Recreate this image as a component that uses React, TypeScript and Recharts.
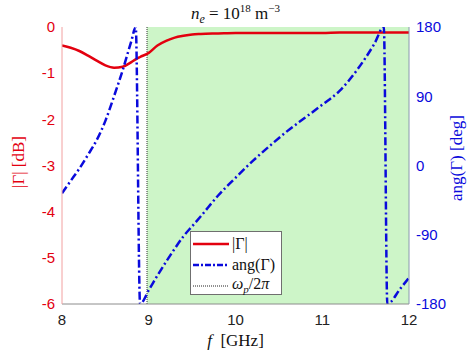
import { ComposedChart, Line, XAxis, YAxis, ReferenceArea, ReferenceLine } from "recharts";

// frequency grid [GHz]
const freqGHz = [
  8.0, 8.1, 8.2, 8.3, 8.4, 8.5, 8.6, 8.7, 8.8, 8.85, 8.9, 9.0, 9.1, 9.2, 9.3, 9.4, 9.5, 9.6, 9.8,
  10.0, 10.2, 10.4, 10.6, 10.8, 11.0, 11.2, 11.4, 11.6, 11.71, 11.75, 11.9, 12.0,
];
// |Gamma| in dB
const gammaDb = [
  -0.4, -0.45, -0.52, -0.62, -0.73, -0.83, -0.88, -0.86, -0.76, -0.7, -0.65, -0.56, -0.4, -0.3, -0.23,
  -0.19, -0.16, -0.15, -0.14, -0.13, -0.13, -0.13, -0.13, -0.13, -0.13, -0.12, -0.12, -0.12, -0.12,
  -0.12, -0.12, -0.12,
];
// ang(Gamma) in degrees
const angleDeg = [
  -36, -20, -4, 14, 33, 58, 90, 124, 162, 180, -180, -162, -143, -125, -108, -92, -79, -66, -39,
  -16, 6, 26, 45, 62, 79, 97, 124, 158, 180, -180, -160, -146,
];

const freqTicks = [8, 9, 10, 11, 12];
const dbTicks = [-6, -5, -4, -3, -2, -1, 0];
const degTicks = [-180, -90, 0, 90, 180];
const plasmaFreq = 8.98;

const data = freqGHz.map((f, i) => ({ f, db: gammaDb[i], ang: angleDeg[i] }));

const RED = "#e3000f";
const BLUE = "#0a0adc";
const SANS = "'Liberation Sans', Arial, sans-serif";
const SERIF = "'Liberation Serif', 'DejaVu Serif', serif";

function LegendBox() {
  const row = (sample: JSX.Element, label: JSX.Element) => (
    <div style={{ display: "flex", alignItems: "center", height: 21 }}>
      <svg width={36} height={10} style={{ marginLeft: 2, marginRight: 3 }}>
        {sample}
      </svg>
      <span>{label}</span>
    </div>
  );
  return (
    <div
      style={{
        position: "absolute",
        left: 190,
        top: 231,
        width: 92,
        height: 64,
        boxSizing: "border-box",
        border: "1px solid #6f6f6f",
        background: "#fff",
        fontFamily: SERIF,
        fontSize: 16,
        color: "#111",
        paddingTop: 1,
      }}
    >
      {row(<line x1={0} y1={5} x2={36} y2={5} stroke={RED} strokeWidth={2.5} />, <span>|Γ|</span>)}
      {row(
        <line x1={0} y1={5} x2={36} y2={5} stroke={BLUE} strokeWidth={2.5} strokeDasharray="6 2 2 2" />,
        <span>ang(Γ)</span>
      )}
      {row(
        <line x1={0} y1={5} x2={36} y2={5} stroke="#222" strokeWidth={1} strokeDasharray="1 1" />,
        <span>
          <i>ω</i>
          <sub style={{ fontSize: 11 }}>
            <i>p</i>
          </sub>
          /2<i>π</i>
        </span>
      )}
    </div>
  );
}

export default function App() {
  return (
    <div style={{ position: "absolute", left: 0, top: 0, width: 474, height: 355, background: "#fff" }}>
      <ComposedChart width={474} height={355} data={data} margin={{ top: 27, right: 0, bottom: 0, left: 0 }}>
        <XAxis
          dataKey="f"
          type="number"
          domain={[8, 12]}
          ticks={freqTicks}
          allowDataOverflow
          height={51}
          stroke="#8c8c8c"
          tickLine={false}
          tickSize={6}
          tickMargin={4}
          tick={{ fill: "#222", fontSize: 15, fontFamily: SANS }}
        />
        <XAxis xAxisId="top" orientation="top" dataKey="f" type="number" domain={[8, 12]} height={0} tick={false} tickLine={false} stroke="#8c8c8c" />
        <YAxis
          yAxisId="left"
          domain={[-6, 0]}
          ticks={dbTicks}
          allowDataOverflow
          width={62}
          stroke="#f2a0a0"
          tickLine={false}
          tickSize={4}
          tickMargin={3}
          tick={{ fill: RED, fontSize: 15, fontFamily: SANS }}
          label={{
            content: () => (
              <text x={24} y={162} transform="rotate(-90 24 162)" textAnchor="middle" fill={RED} fontFamily={SERIF} fontSize={17}>
                |Γ| [dB]
              </text>
            ),
          }}
        />
        <YAxis
          yAxisId="right"
          orientation="right"
          domain={[-180, 180]}
          ticks={degTicks}
          allowDataOverflow
          width={65}
          stroke="#8a98b0"
          tickLine={false}
          tickSize={4}
          tickMargin={3}
          tick={{ fill: BLUE, fontSize: 15, fontFamily: SANS }}
          label={{
            content: () => (
              <text x={462} y={158} transform="rotate(-90 462 158)" textAnchor="middle" fill={BLUE} fontFamily={SERIF} fontSize={17}>
                ang(Γ)  [deg]
              </text>
            ),
          }}
        />
        <ReferenceArea yAxisId="left" x1={plasmaFreq} x2={12} y1={-6} y2={0} fill="#cdf5c8" fillOpacity={1} stroke="none" />
        <ReferenceLine yAxisId="left" x={plasmaFreq} stroke="#333" strokeWidth={1} strokeDasharray="1 1" />
        <Line yAxisId="left" dataKey="db" type="monotone" stroke={RED} strokeWidth={2.5} dot={false} isAnimationActive={false} />
        <Line
          yAxisId="right"
          dataKey="ang"
          type="monotone"
          stroke={BLUE}
          strokeWidth={2.5}
          strokeDasharray="8 3 2 3"
          dot={false}
          isAnimationActive={false}
        />
      </ComposedChart>
      <div
        style={{
          position: "absolute",
          left: 0,
          top: 2,
          width: 471,
          textAlign: "center",
          fontFamily: SERIF,
          fontSize: 17,
          color: "#111",
        }}
      >
        <i>n</i>
        <sub style={{ fontSize: 12 }}>
          <i>e</i>
        </sub>{" "}
        = 10<sup style={{ fontSize: 11 }}>18</sup> m<sup style={{ fontSize: 11 }}>−3</sup>
      </div>
      <div
        style={{
          position: "absolute",
          left: 0,
          top: 331,
          width: 471,
          textAlign: "center",
          fontFamily: SERIF,
          fontSize: 17,
          color: "#111",
          whiteSpace: "pre",
        }}
      >
        <i>f</i>{"  "}[GHz]
      </div>
      <LegendBox />
    </div>
  );
}
